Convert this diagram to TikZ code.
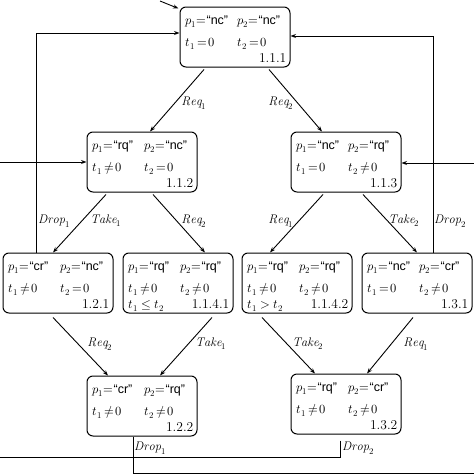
\documentclass[tikz,border=0pt]{standalone}
\usepackage{fontspec}
\usepackage{unicode-math}
\usetikzlibrary{arrows.meta,calc}
\newfontfamily\sfq{Liberation Sans}
\newcommand{\sq}[1]{{\sfq “#1”}}
\tikzset{
  stbox/.style={draw, line width=1pt, rounded corners=6pt, minimum width=110pt, minimum height=60pt, inner sep=0pt},
  txt/.style={inner sep=0pt, font=\fontsize{12.5}{14}\selectfont},
  num/.style={inner sep=0pt, font=\fontsize{13.5}{15}\selectfont},
  lab/.style={inner sep=0pt, font=\fontsize{12.5}{14}\selectfont},
  conn/.style={line width=0.9pt, -{Stealth[length=5.5pt,width=4pt]}},
  wire/.style={line width=0.9pt},
}
% name, x, y, p1, p2, t1, t2, num
\newcommand{\stnode}[8]{%
  \node[stbox] (#1) at (#2,#3) {};
  \node[txt, anchor=base west] (#1-a) at ([xshift=6pt,yshift=-18pt]#1.north west) {$p_1{=}$\sq{#4}};
  \node[txt, anchor=base west] (#1-b) at ([xshift=58pt,yshift=-18pt]#1.north west) {$p_2{=}$\sq{#5}};
  \node[txt, anchor=base west] (#1-c) at ([xshift=6pt,yshift=-40pt]#1.north west) {$t_1{\,#6\,}0$};
  \node[txt, anchor=base west] (#1-d) at ([xshift=58pt,yshift=-40pt]#1.north west) {$t_2{\,#7\,}0$};
  \node[num, anchor=base east] (#1-f) at ([xshift=-4pt,yshift=-56pt]#1.north east) {#8};
}
\begin{document}
\begin{tikzpicture}[x=1pt,y=-1pt]
\useasboundingbox (0,0) rectangle (474,474);
\stnode{b111}{235}{37}{nc}{nc}{=}{=}{1.1.1}
\stnode{b112}{142}{162}{rq}{nc}{≠}{=}{1.1.2}
\stnode{b113}{346}{162}{nc}{rq}{=}{≠}{1.1.3}
\stnode{b121}{58}{283}{cr}{nc}{≠}{=}{1.2.1}
\stnode{b1141}{178}{283}{rq}{rq}{≠}{≠}{1.1.4.1}
\stnode{b1142}{297}{283}{rq}{rq}{≠}{≠}{1.1.4.2}
\stnode{b131}{417}{283}{nc}{cr}{=}{≠}{1.3.1}
\stnode{b122}{142}{406}{cr}{rq}{≠}{≠}{1.2.2}
\stnode{b132}{346}{404}{rq}{cr}{≠}{≠}{1.3.2}
\node[txt, anchor=base west] (b1141-e) at ([xshift=6pt,yshift=-56pt]b1141.north west) {$t_1\leq t_2$};
\node[txt, anchor=base west] (b1142-e) at ([xshift=6pt,yshift=-56pt]b1142.north west) {$t_1>t_2$};

% initial arrow
\coordinate (init) at (160,1);
\draw[conn] (init) -- ([xshift=-1pt,yshift=-2pt]b111.north west);

% transitions
\draw[conn] ([xshift=-31pt,yshift=-2pt]b111.south) -- ([xshift=8pt]b112.north);
\draw[conn] ([xshift=34pt,yshift=-2pt]b111.south) -- ([xshift=-24pt]b113.north);
\draw[conn] ([xshift=-36pt,yshift=-2pt]b112.south) -- ([xshift=-5pt]b121.north);
\draw[conn] ([xshift=11pt,yshift=-2pt]b112.south) -- ([xshift=27pt]b1141.north);
\draw[conn] ([xshift=-23pt,yshift=-2pt]b113.south) -- ([xshift=-27pt]b1142.north);
\draw[conn] ([xshift=17pt,yshift=-2pt]b113.south) -- ([xshift=0pt]b131.north);
\draw[conn] ([xshift=-5pt,yshift=-4pt]b121.south) -- ([xshift=-34pt]b122.north);
\draw[conn] ([xshift=34pt,yshift=-4pt]b1141.south) -- ([xshift=18pt]b122.north);
\draw[conn] ([xshift=-35pt,yshift=-4pt]b1142.south) -- ([xshift=-31pt]b132.north);
\draw[conn] ([xshift=-4pt,yshift=-4pt]b131.south) -- ([xshift=21pt]b132.north);

% drop loops to 1.1.1
\draw[conn] ([xshift=-22pt]b121.north) |- ([yshift=4pt]b111.west);
\draw[conn] ([xshift=16pt]b131.north) |- ([yshift=1pt]b111.east);

% wrap-around drops
\coordinate (d2end) at (0,457);
\coordinate (d2in) at (0,162);
\draw[wire] ([xshift=-6pt,yshift=-6pt]b132.south) |- (d2end);
\draw[conn] (d2in) -- (b112.west);
\coordinate (d1end) at (474,473);
\coordinate (d1in) at (474,163);
\draw[wire] ([xshift=-9pt]b122.south) |- (d1end);
\draw[conn] (d1in) -- ([yshift=-1pt]b113.east);

% labels
\node[lab] (l1) at (194,103) {$\mathit{Req}_1$};
\node[lab] (l2) at (281,103) {$\mathit{Req}_2$};
\node[lab] (l3) at (54,221) {$\mathit{Drop}_1$};
\node[lab] (l4) at (106,221) {$\mathit{Take}_1$};
\node[lab] (l5) at (194,221) {$\mathit{Req}_2$};
\node[lab] (l6) at (281,221) {$\mathit{Req}_1$};
\node[lab] (l7) at (404,221) {$\mathit{Take}_2$};
\node[lab] (l8) at (450,221) {$\mathit{Drop}_2$};
\node[lab] (l9) at (100,344) {$\mathit{Req}_2$};
\node[lab] (l10) at (211,344) {$\mathit{Take}_1$};
\node[lab] (l11) at (308,344) {$\mathit{Take}_2$};
\node[lab] (l12) at (416,344) {$\mathit{Req}_1$};
\node[lab] (l13) at (150,448) {$\mathit{Drop}_1$};
\node[lab] (l14) at (358,448) {$\mathit{Drop}_2$};
\end{tikzpicture}
\end{document}
